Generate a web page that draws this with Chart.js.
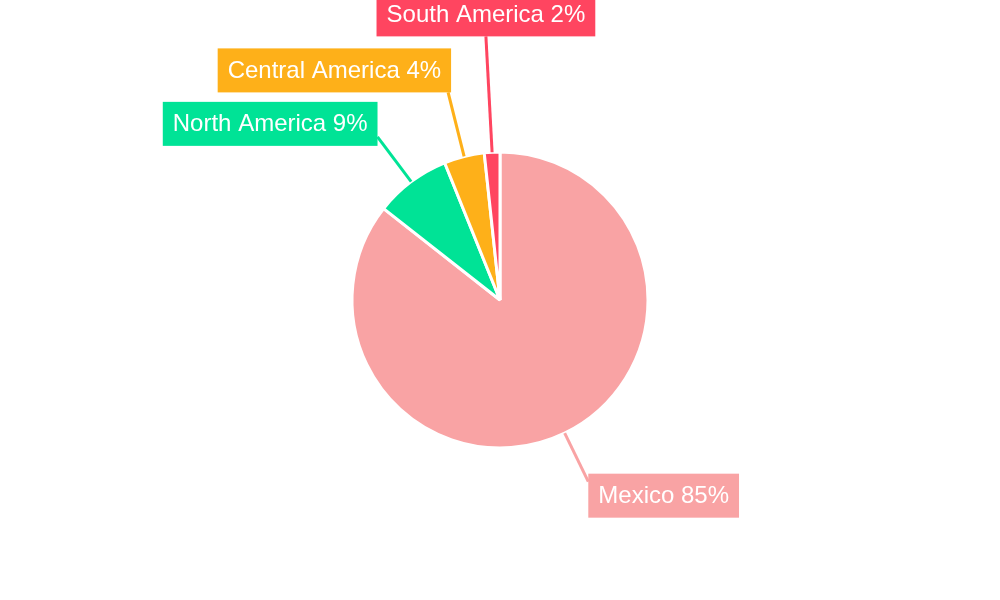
<!DOCTYPE html>
<html>
<head>
<meta charset="utf-8">
<script src="https://cdn.jsdelivr.net/npm/chart.js@4"></script>
<style>
  html, body { margin:0; padding:0; background:#fff; }
  canvas { display:block; }
</style>
</head>
<body>
<canvas id="pie" width="1000" height="600"></canvas>
<script>
const regions = ["Mexico", "North America", "Central America", "South America"];
const shares = [85.6, 8.3, 4.4, 1.7];
const shareLabels = ["85%", "9%", "4%", "2%"];
const colors = ["#f9a3a4", "#00e396", "#feb019", "#ff4560"];

// callout layout: line length past the edge and where the box sits on the line end
const callouts = [
  {len: 54, anchor: "left-top", dy: -8},
  {len: 56, anchor: "right", dy: 9},
  {len: 66, anchor: "right-bottom", dx: 3},
  {len: 116, anchor: "bottom"}
];

const calloutPlugin = {
  id: "callouts",
  afterDatasetsDraw(chart){
    const ctx = chart.ctx;
    const meta = chart.getDatasetMeta(0);
    ctx.save();
    ctx.font = "24px 'Liberation Sans', Arial, sans-serif";
    ctx.textBaseline = "middle";
    meta.data.forEach((arc, i) => {
      const p = arc.getProps(["x","y","startAngle","endAngle","outerRadius"], true);
      const mid = (p.startAngle + p.endAngle) / 2;
      const c = callouts[i];
      const x0 = p.x + Math.cos(mid) * p.outerRadius;
      const y0 = p.y + Math.sin(mid) * p.outerRadius;
      const x1 = p.x + Math.cos(mid) * (p.outerRadius + c.len);
      const y1 = p.y + Math.sin(mid) * (p.outerRadius + c.len);
      ctx.strokeStyle = colors[i];
      ctx.lineWidth = 3;
      ctx.beginPath();
      ctx.moveTo(x0, y0);
      ctx.lineTo(x1, y1);
      ctx.stroke();

      const text = regions[i] + " " + shareLabels[i];
      const w = ctx.measureText(text).width + 20;
      const h = 44;
      let bx, by;
      if (c.anchor === "bottom") { bx = x1 - w/2; by = y1 - h; }
      else if (c.anchor === "right-bottom") { bx = x1 + (c.dx||0) - w; by = y1 - h; }
      else if (c.anchor === "right") { bx = x1 - w; by = y1 + (c.dy||0) - h; }
      else { bx = x1; by = y1 + (c.dy||0); }
      ctx.fillStyle = colors[i];
      ctx.fillRect(bx, by, w, h);
      ctx.fillStyle = "#fff";
      ctx.fillText(text, bx + 10, by + h/2 + 1);
    });
    ctx.restore();
  }
};

new Chart(document.getElementById("pie"), {
  type: "pie",
  data: {
    labels: regions,
    datasets: [{
      data: shares,
      backgroundColor: colors,
      borderColor: "#fff",
      borderWidth: 3,
      radius: 148
    }]
  },
  options: {
    responsive: false,
    animation: false,
    plugins: { legend: { display: false }, tooltip: { enabled: false } }
  },
  plugins: [calloutPlugin]
});
</script>
</body>
</html>
